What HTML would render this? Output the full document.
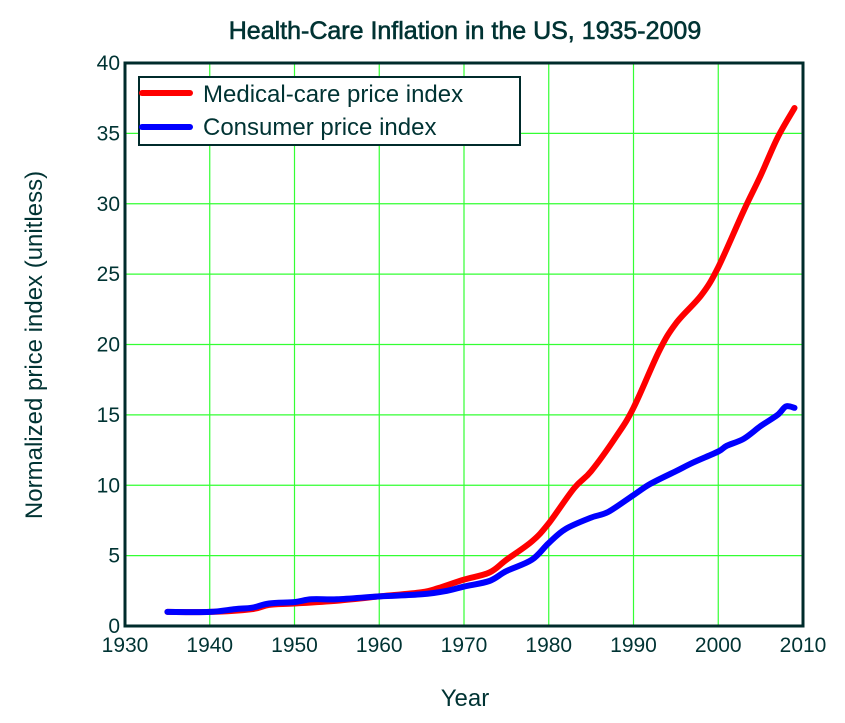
<!DOCTYPE html>
<html><head><meta charset="utf-8"><style>
body{margin:0;background:#fff;}
svg text{font-family:"Liberation Sans",sans-serif;fill:#003333;}
</style></head><body>
<svg id="chart" width="845" height="718" viewBox="0 0 845 718">
<text x="465" y="39" font-size="25" text-anchor="middle" stroke="#003333" stroke-width="0.6">Health-Care Inflation in the US, 1935-2009</text>
<g id="grid"></g>
<g id="ticks"></g>
<g id="series"></g>
<rect x="125" y="63" width="678" height="563" fill="none" stroke="#002b2b" stroke-width="3"/>
<g>
<rect x="139" y="77" width="381" height="68" fill="#fff" stroke="#002b2b" stroke-width="2"/>
<line x1="142" y1="93" x2="190" y2="93" stroke="#ff0000" stroke-width="6" stroke-linecap="round"/>
<text x="203" y="102" font-size="24">Medical-care price index</text>
<line x1="142" y1="127" x2="190" y2="127" stroke="#0000ff" stroke-width="6" stroke-linecap="round"/>
<text x="203" y="135" font-size="24">Consumer price index</text>
</g>
<text x="465" y="706" font-size="24" text-anchor="middle">Year</text>
<text transform="translate(42,345) rotate(-90)" font-size="24" text-anchor="middle">Normalized price index (unitless)</text>
</svg>
<script>
const xTicks=[1930,1940,1950,1960,1970,1980,1990,2000,2010];
const yTicks=[0,5,10,15,20,25,30,35,40];
const medYears=[1935,1940,1945,1947,1950,1955,1960,1965,1967,1970,1973,1975,1978,1980,1983,1985,1988,1990,1993,1995,1998,2000,2003,2005,2007,2009];
const medValues=[1.0,1.0,1.2,1.5,1.6,1.8,2.1,2.4,2.7,3.3,3.8,4.7,6.0,7.3,9.8,11.0,13.5,15.5,19.5,21.5,23.5,25.5,29.5,32,34.7,36.8];
const cpiYears=[1935,1940,1943,1945,1947,1950,1952,1955,1960,1965,1968,1970,1973,1975,1978,1980,1982,1985,1987,1990,1992,1995,1997,2000,2001,2003,2005,2007,2008,2009];
const cpiValues=[1.0,1.0,1.2,1.3,1.6,1.7,1.9,1.9,2.1,2.25,2.5,2.8,3.2,3.9,4.7,5.9,6.9,7.7,8.1,9.3,10.1,11.0,11.6,12.4,12.8,13.3,14.2,15.0,15.6,15.5];
const NS='http://www.w3.org/2000/svg';
const X=v=>125+(v-1930)/80*678;
const Y=v=>626-v/40*563;
function mk(tag,attrs,parent){const e=document.createElementNS(NS,tag);for(const k in attrs)e.setAttribute(k,attrs[k]);parent.appendChild(e);return e;}
const grid=document.getElementById('grid'),ticks=document.getElementById('ticks'),series=document.getElementById('series');
xTicks.forEach(t=>{
  if(t>1930&&t<2010){const l=mk('line',{x1:X(t),x2:X(t),y1:63,y2:626,stroke:'#33ff33','stroke-width':1.2},grid);
  
  }
  const tx=mk('text',{x:X(t),y:652,'font-size':21,'text-anchor':'middle'},ticks);tx.textContent=t;
  
  
});
yTicks.forEach(t=>{
  if(t>0&&t<40){const l=mk('line',{x1:125,x2:803,y1:Y(t),y2:Y(t),stroke:'#33ff33','stroke-width':1.2},grid);
  
  }
  const tx=mk('text',{x:120,y:Y(t)+7,'font-size':21,'text-anchor':'end'},ticks);tx.textContent=t;
  
  
});
function line(xs,vs,color,name){
  const pts=xs.map((x,i)=>[X(x),Y(vs[i])]);
  let d='M'+pts[0][0].toFixed(1)+','+pts[0][1].toFixed(1);
  for(let i=0;i<pts.length-1;i++){
    const p0=pts[Math.max(i-1,0)],p1=pts[i],p2=pts[i+1],p3=pts[Math.min(i+2,pts.length-1)];
    const c1=[p1[0]+(p2[0]-p0[0])/6,p1[1]+(p2[1]-p0[1])/6];
    const c2=[p2[0]-(p3[0]-p1[0])/6,p2[1]-(p3[1]-p1[1])/6];
    d+=' C'+c1.map(v=>v.toFixed(1)).join(',')+' '+c2.map(v=>v.toFixed(1)).join(',')+' '+p2.map(v=>v.toFixed(1)).join(',');
  }
  const p=mk('path',{d:d,fill:'none',stroke:color,'stroke-width':6,'stroke-linejoin':'round','stroke-linecap':'round'},series);
  
  
}
line(medYears,medValues,'#ff0000','medical-care-line');
line(cpiYears,cpiValues,'#0000ff','consumer-price-line');
</script>
</body></html>
